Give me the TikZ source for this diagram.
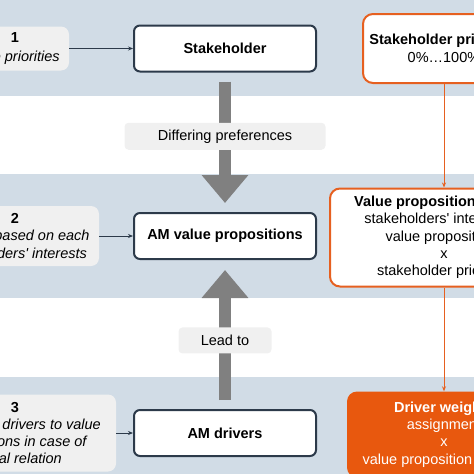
\documentclass[tikz,border=0pt]{standalone}
\usepackage{fontspec}
\setmainfont{Liberation Sans}
\usepackage{tikz}
\usetikzlibrary{arrows.meta,positioning}
\usepackage{xcolor}
\definecolor{bandblue}{RGB}{209,220,230}
\definecolor{notegrey}{RGB}{240,240,240}
\definecolor{slate}{RGB}{44,58,74}
\definecolor{arrowgrey}{RGB}{128,128,128}
\definecolor{amorange}{RGB}{230,96,32}
\definecolor{amfill}{RGB}{232,88,14}

\begin{document}
\begin{tikzpicture}[x=1pt, y=-1pt,
  every node/.style={font=\fontsize{14.5}{17.3}\selectfont},
  mainbox/.style={draw=slate, line width=2pt, rounded corners=6pt, fill=white,
    minimum width=182pt, minimum height=46pt, font=\fontsize{14.5}{17.3}\selectfont\bfseries},
  notebox/.style={fill=notegrey, rounded corners=8pt, align=center, inner sep=0pt},
  labelbox/.style={fill=notegrey, rounded corners=4pt, inner sep=0pt},
  propbox/.style={draw=amorange, line width=2pt, rounded corners=10pt, fill=white,
    align=center, inner sep=0pt},
  weightbox/.style={fill=amfill, rounded corners=10pt, text=white, align=center, inner sep=0pt},
  bigarrow/.style={draw=arrowgrey, line width=12pt, -{Triangle[width=45pt, length=28pt]}},
  pointer/.style={draw=slate, line width=0.8pt, -{Stealth[length=5pt, width=4pt]}},
  flowline/.style={draw=amorange, line width=1pt, -{Stealth[length=5pt, width=4pt]}}
]
\useasboundingbox (0,0) rectangle (474,474);
\clip (0,0) rectangle (474,474);

%========== bands ==========
\fill[bandblue] (0,0) rectangle (474,96);
\fill[bandblue] (0,174) rectangle (474,298);
\fill[bandblue] (0,377) rectangle (474,474);

%========== left notes ==========
\node[notebox, minimum width=108pt, minimum height=44pt] (n1) at (15,48.5)
  {\textbf{1}\\[1pt]\textit{Rate priorities}};
\node[notebox, minimum width=168pt, minimum height=60pt] (n2) at (15,236)
  {\textbf{2}\\\textit{Defined based on each}\\\textit{stakeholders\textquotesingle\ interests}};
\node[notebox, minimum width=202pt, minimum height=77pt] (n3) at (15,433)
  {\textbf{3}\\\textit{Assign AM drivers to value}\\\textit{propositions in case of}\\\textit{causal relation}};

%========== middle column ==========
\node[mainbox] (stake) at (225,48.5) {Stakeholder};
\node[mainbox] (amvp)  at (225,236) {AM value propositions};
\node[mainbox] (amdr)  at (225,433) {AM drivers};

\draw[pointer] (n1) -- (stake);
\draw[pointer] (n2) -- (amvp);
\draw[pointer] (n3) -- (amdr);

\draw[bigarrow, shorten <=9pt, shorten >=9pt] (stake) --
  node[labelbox, pos=0.457, minimum width=201pt, minimum height=27pt] (diff) {Differing preferences} (amvp);
\draw[bigarrow, shorten <=9pt, shorten >=10pt] (amdr) --
  node[labelbox, pos=0.46, minimum width=93pt, minimum height=26pt] (lead) {Lead to} (amvp);

%========== right column ==========
\node[propbox, minimum width=162pt, minimum height=69pt] (sp) at (444,48.5)
  {\textbf{Stakeholder priorities}\\[1pt]0\%…100\%};
\node[propbox, minimum width=228pt, minimum height=98pt] (vp) at (444,237.5)
  {\textbf{Value proposition weights}\\stakeholders\textquotesingle\ interests in\\value propositions\\x\\stakeholder priorities};
\node[weightbox, minimum width=194pt, minimum height=86pt] (dw) at (444,434.5)
  {\textbf{Driver weights}\\assignment\\x\\value proposition weights};

\draw[flowline] (sp) -- (vp);
\draw[flowline] (vp) -- (dw);

\end{tikzpicture}
\end{document}
